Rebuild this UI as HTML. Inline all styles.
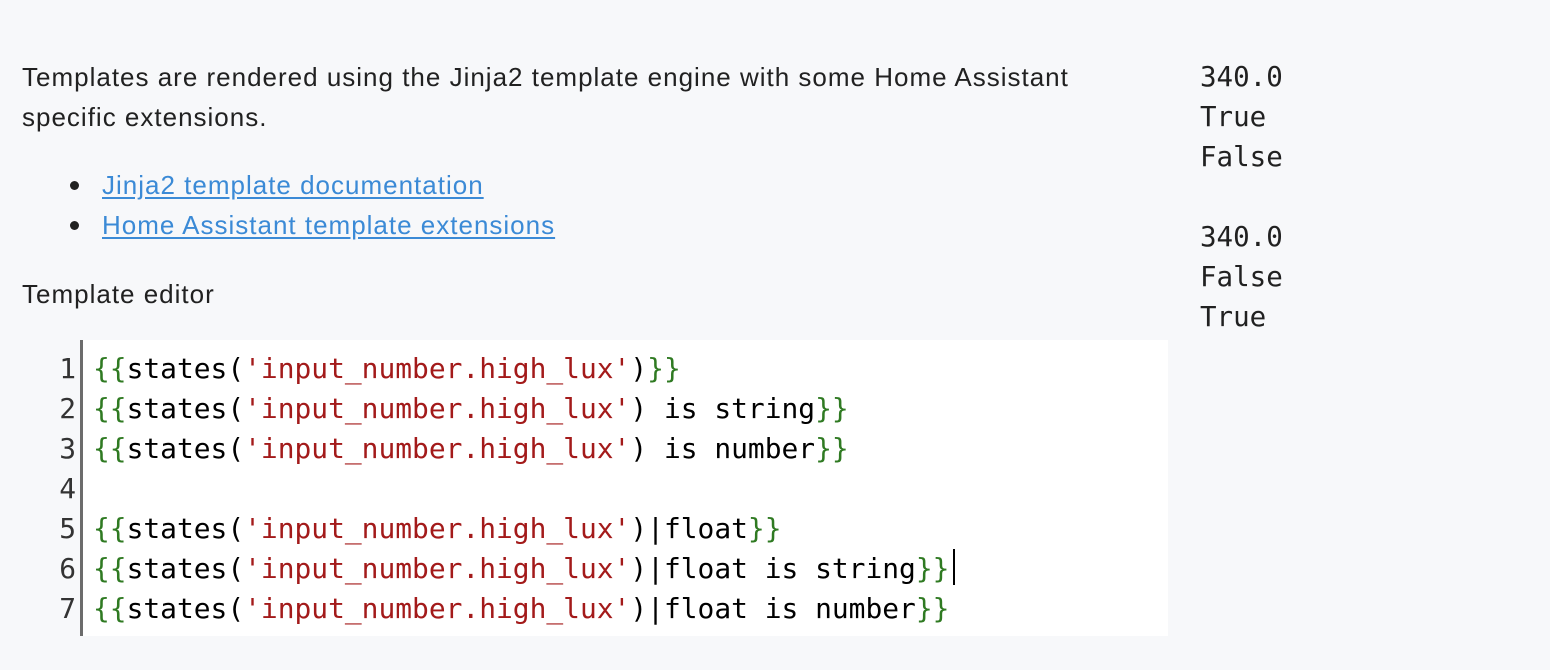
<!DOCTYPE html>
<html><head><meta charset="utf-8"><style>
html,body{margin:0;padding:0;background:#f7f8fa;width:1550px;height:670px;overflow:hidden}
.t{position:absolute;font-family:"Liberation Sans",sans-serif;font-size:26px;letter-spacing:1px;line-height:40px;color:#212121;white-space:nowrap}
a{color:#3b8ad6;text-decoration:underline;text-underline-offset:3px}
.dot{position:absolute;width:9px;height:9px;border-radius:50%;background:#212121}
#ed{position:absolute;left:80px;top:340px;width:1088px;height:296px;background:#fff;border-left:3px solid #6c6c6c;box-sizing:border-box}
.m{font-family:"DejaVu Sans Mono","Liberation Mono",monospace;font-size:27.9px;line-height:40px;white-space:pre}
.code{position:absolute;left:93px;top:349px;color:#000}
.ln{position:absolute;left:20px;width:56px;top:349px;text-align:right;color:#333}
.g{color:#2f7a22}.s{color:#a31a1a}
.out{position:absolute;left:1200px;top:57px;font-family:"DejaVu Sans Mono","Liberation Mono",monospace;font-size:27.5px;line-height:40px;white-space:pre;color:#212121}
.cur{position:absolute;left:953px;top:549px;width:2px;height:36px;background:#000}
</style></head><body>
<div class="t" style="left:22px;top:57px">Templates are rendered using the Jinja2 template engine with some Home Assistant</div>
<div class="t" style="left:22px;top:97px">specific extensions.</div>
<div class="dot" style="left:70px;top:181px"></div>
<div class="dot" style="left:70px;top:221px"></div>
<div class="t" style="left:102px;top:165px"><a>Jinja2 template documentation</a></div>
<div class="t" style="left:102px;top:205px"><a>Home Assistant template extensions</a></div>
<div class="t" style="left:22px;top:274px">Template editor</div>
<div id="ed"></div>
<div class="m ln">1
2
3
4
5
6
7</div>
<div class="m code"><span class="g">{{</span>states(<span class="s">'input_number.high_lux'</span>)<span class="g">}}</span>
<span class="g">{{</span>states(<span class="s">'input_number.high_lux'</span>) is string<span class="g">}}</span>
<span class="g">{{</span>states(<span class="s">'input_number.high_lux'</span>) is number<span class="g">}}</span>

<span class="g">{{</span>states(<span class="s">'input_number.high_lux'</span>)|float<span class="g">}}</span>
<span class="g">{{</span>states(<span class="s">'input_number.high_lux'</span>)|float is string<span class="g">}}</span>
<span class="g">{{</span>states(<span class="s">'input_number.high_lux'</span>)|float is number<span class="g">}}</span></div>
<div class="cur"></div>
<div class="out">340.0
True
False

340.0
False
True</div>
</body></html>
